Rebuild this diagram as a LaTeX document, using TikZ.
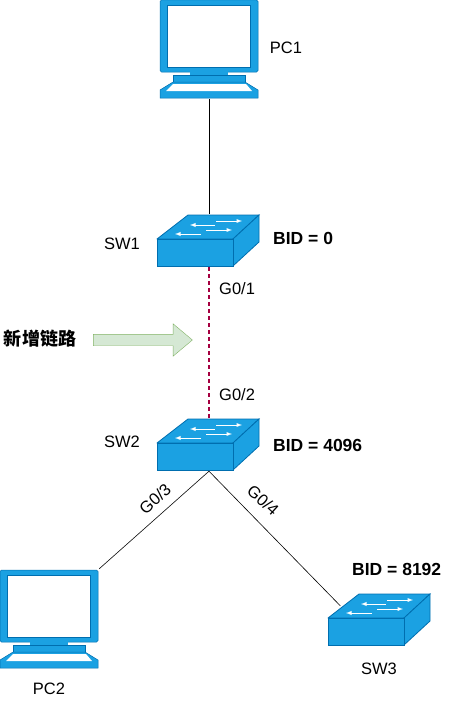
\documentclass[tikz,border=0pt]{standalone}
\usepackage{fontspec}
\setmainfont{Liberation Sans}
\newfontfamily\cjk{Noto Sans CJK SC}
\usetikzlibrary{shapes.arrows}
\definecolor{devfill}{HTML}{1BA1E2}
\definecolor{devline}{HTML}{006EAF}
\definecolor{newline}{HTML}{A50040}
\definecolor{arrowfill}{HTML}{D5E8D4}
\definecolor{arrowline}{HTML}{82B366}
% shapes are drawn around the centre of their node
\newcommand{\pcshape}{%
  \begin{scope}[draw=devline, fill=devfill, line width=0.5pt]
    \filldraw[rounded corners=1.5pt] (-49,-49) rectangle (49,23);
    \filldraw[fill=white, draw=devline] (-42,-44) rectangle (41,18);
    \fill (-19,22) rectangle (19,27);
    \filldraw (-36,26) rectangle (36,33);
    \filldraw (-36,33) -- (36,33) -- (49,41) -- (49,49) -- (-49,49) -- (-49,41) -- cycle;
    \fill[white] (-36,35) -- (37,35) -- (43,42) -- (-43,42) -- cycle;
  \end{scope}}
\newcommand{\switchshape}{%
  \begin{scope}[draw=devline, fill=devfill, line width=0.8pt]
    \filldraw (-52,-1.5) -- (-21,-25.5) -- (50,-25.5) -- (24,-1.5) -- cycle;
    \filldraw (24,-1.5) -- (50,-25.5) -- (50,1.5) -- (24,25.5) -- cycle;
    \filldraw (-52,-1.5) rectangle (24,25.5);
    \draw[->, white, line width=0.9pt] (7,-19.5) -- (33,-19.5);
    \draw[->, white, line width=0.9pt] (6,-15.5) -- (-19,-15.5);
    \draw[->, white, line width=0.9pt] (-3,-10.5) -- (23,-10.5);
    \draw[->, white, line width=0.9pt] (-8,-6.5) -- (-34,-6.5);
  \end{scope}}
\begin{document}
\begin{tikzpicture}[x=1pt, y=-1pt, >=latex, font=\fontsize{16.5}{18}\selectfont,
    pcbox/.style={inner sep=0pt, minimum width=100pt, minimum height=100pt, path picture={\pcshape}},
    swbox/.style={inner sep=0pt, minimum width=105pt, minimum height=53pt, path picture={\switchshape}},
    bid/.style={anchor=west, inner sep=0pt, font=\fontsize{17.5}{18}\selectfont\bfseries},
    port/.style={inner sep=0pt, font=\fontsize{16.5}{18}\selectfont},
    link/.style={draw, line width=0.6pt},
    newlink/.style={draw=newline, line width=1.2pt, dash pattern=on 4pt off 3pt},
    addarrow/.style={draw=arrowline, fill=arrowfill, single arrow, inner xsep=0pt, inner ysep=5.5pt, minimum width=32pt, minimum height=99pt,
      single arrow head extend=10.5pt, single arrow head indent=0pt, single arrow tip angle=80}]
    \useasboundingbox (0,0) rectangle (453,701);
    \node[pcbox] (pc1) at (209,49) {};
    \node[swbox] (sw1) at (209,240.5) {};
    \node[swbox] (sw2) at (209,444.5) {};
    \node[swbox] (sw3) at (380,619.5) {};
    \node[pcbox] (pc2) at (49,619) {};
    \coordinate (sw3in) at ([xshift=13pt, yshift=-13pt]sw3.north west);
    \draw[link] (pc1.south) -- (sw1.north);
    \draw[newlink] (sw1.south) -- (sw2.north);
    \draw[link] (sw2.south) -- (pc2.north east);
    \draw[link] (sw2.south) -- (sw3in);
    \node (pc1name) at (286,48) {PC1};
    \node (sw1name) at (122,244) {SW1};
    \node (sw2name) at (122,442) {SW2};
    \node (sw3name) at (379,669) {SW3};
    \node (pc2name) at (49,689) {PC2};
    \node[bid] (bid1) at (273,238) {BID = 0};
    \node[bid] (bid2) at (273,445) {BID = 4096};
    \node[bid] (bid3) at (352,569) {BID = 8192};
    \node[port, anchor=west] (g01) at (219,289) {G0/1};
    \node[port, anchor=west] (g02) at (219,395) {G0/2};
    \node[port, rotate=42] (g03) at (155,499) {G0/3};
    \node[port, rotate=-42] (g04) at (263,500) {G0/4};
    \node[inner sep=0pt, font=\fontsize{18}{20}\selectfont\cjk\bfseries] (addlabel) at (40,339) {新增链路};
    \node[addarrow] (addlink) at (139.5,340) {};
  \end{tikzpicture}
\end{document}
